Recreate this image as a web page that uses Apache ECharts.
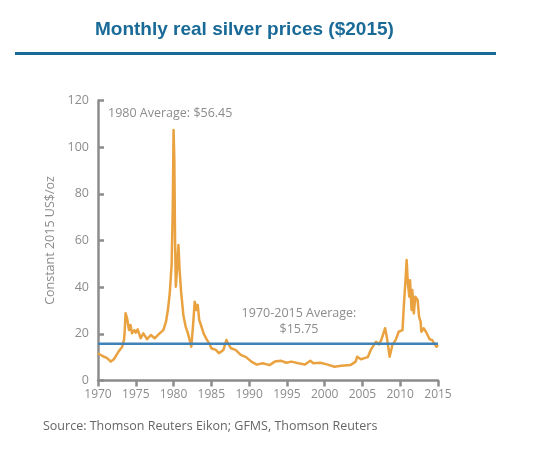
<!DOCTYPE html>
<html>
<head>
<meta charset="utf-8">
<script src="https://cdn.jsdelivr.net/npm/echarts@6/dist/echarts.min.js"></script>
<style>html,body{margin:0;padding:0;background:#fff}#c{width:550px;height:456px}</style>
</head>
<body>
<div id="c"></div>
<script>
const years = [1970.0,1970.6,1971.2,1971.7,1972.1,1972.7,1973.2,1973.45,1973.55,1973.65,1973.85,1974.1,1974.3,1974.5,1974.8,1975.0,1975.25,1975.65,1976.0,1976.5,1977.0,1977.5,1978.15,1978.65,1979.0,1979.25,1979.5,1979.75,1979.9,1980.0,1980.1,1980.2,1980.3,1980.45,1980.65,1980.8,1981.0,1981.3,1981.6,1981.9,1982.2,1982.35,1982.6,1982.8,1983.0,1983.2,1983.4,1983.6,1984.0,1984.4,1984.8,1985.0,1985.6,1986.0,1986.6,1987.0,1987.2,1987.6,1988.2,1988.9,1989.6,1990.3,1991.0,1991.8,1992.7,1993.4,1994.2,1994.9,1995.6,1996.5,1997.4,1998.1,1998.5,1999.4,2000.3,2001.3,2002.2,2003.4,2004.1,2004.3,2004.8,2005.0,2005.7,2006.1,2006.5,2006.8,2007.2,2007.5,2008.0,2008.25,2008.6,2008.96,2009.4,2009.8,2010.0,2010.3,2010.5,2010.7,2010.85,2011.0,2011.2,2011.3,2011.5,2011.6,2011.8,2012.0,2012.3,2012.5,2012.7,2012.8,2013.1,2013.4,2013.6,2013.9,2014.2,2014.5,2014.8,2015.0];
const prices = [11.7,10.5,9.6,8.1,9.1,12.3,14.5,17.5,22.0,28.8,26.7,21.6,23.8,20.2,21.6,20.5,21.9,18.1,20.2,17.7,19.5,18.1,20.2,21.6,25.2,30.2,37.5,50.0,75.0,107.4,95,60,40.2,47.4,58.1,47.4,38.0,28.0,23.1,20.2,16.5,14.5,24.5,33.8,30.2,32.4,25.9,24.0,20.0,17.5,15.5,13.8,13.1,11.7,13.1,17.4,16.0,13.8,13.1,11.0,10.0,8.1,6.8,7.4,6.6,8.1,8.5,7.6,8.1,7.4,6.9,8.5,7.4,7.6,6.9,5.9,6.3,6.6,8.1,10.2,9.1,8.8,10.0,13.1,15.2,16.6,15.5,17.4,22.4,18.1,10.2,15.2,17.4,20.9,20.9,21.6,33.1,43.0,51.6,42.3,35.9,43.0,30.2,38.8,28.8,35.9,34.5,27.3,25.2,20.9,22.4,20.9,20.2,17.7,17.4,15.9,14.5,15.2];
const avgValue = 15.75;
const avgYears = [1970, 2015];
const yTicks = [0, 20, 40, 60, 80, 100, 120];
const xTicks = [1970, 1975, 1980, 1985, 1990, 1995, 2000, 2005, 2010, 2015];

const titleText = 'Monthly real silver prices ($2015)';
const yName = 'Constant 2015 US$/oz';
const note1980 = '1980 Average: $56.45';
const noteAvg = '1970-2015 Average:\n$15.75';
const sourceText = 'Source: Thomson Reuters Eikon; GFMS, Thomson Reuters';

const lineData = years.map((y, i) => [y, prices[i]]);
const avgData = avgYears.map(y => [y, avgValue]);

const gray = '#8c8c8c';
const font = 'Open Sans';

const chart = echarts.init(document.getElementById('c'), null, {renderer: 'canvas'});
chart.setOption({
  backgroundColor: '#ffffff',
  animation: false,
  title: {
    text: titleText,
    left: 90, top: 15,
    textStyle: {fontFamily: 'Liberation Sans', fontWeight: 'bold', fontSize: 19, color: '#1a6a98'}
  },
  grid: {left: 98, right: 112, top: 100.5, bottom: 75.5},
  xAxis: {
    type: 'value', min: xTicks[0], max: xTicks[xTicks.length - 1], interval: 5,
    axisLine: {show: true, onZero: false, lineStyle: {color: gray, width: 2.5}},
    axisTick: {show: true, inside: false, length: 6, lineStyle: {color: gray, width: 2.5}},
    splitLine: {show: false},
    axisLabel: {color: gray, fontFamily: font, fontSize: 12, margin: 8, formatter: v => String(v)}
  },
  yAxis: {
    type: 'value', min: yTicks[0], max: yTicks[yTicks.length - 1], interval: 20,
    name: yName, nameLocation: 'middle', nameGap: 40, nameRotate: 90,
    nameTextStyle: {color: gray, fontFamily: font, fontSize: 12.5},
    axisLine: {show: true, lineStyle: {color: gray, width: 2.5}},
    axisTick: {show: true, inside: true, length: 6, lineStyle: {color: gray, width: 2.5}},
    splitLine: {show: false},
    axisLabel: {color: gray, fontFamily: font, fontSize: 12.5, margin: 9}
  },
  series: [
    {
      type: 'line', data: lineData, showSymbol: false, symbol: 'none',
      lineStyle: {color: '#e9a23f', width: 2.5, join: 'round'}, z: 2
    },
    {
      type: 'line', data: avgData, showSymbol: false, symbol: 'none',
      lineStyle: {color: '#3f82b7', width: 2.5}, z: 3
    }
  ],
  graphic: [
    {type: 'rect', shape: {x: 15, y: 52, width: 481, height: 3}, style: {fill: '#1a6a98'}},
    {type: 'text', left: 108, top: 107, style: {text: note1980, fill: gray, font: '12.5px "Open Sans"'}},
    {type: 'text', x: 299, y: 305, style: {text: noteAvg, fill: gray, font: '12.5px "Open Sans"', textAlign: 'center', lineHeight: 16}},
    {type: 'text', left: 43, top: 420, style: {text: sourceText, fill: '#666666', font: '12.5px "Open Sans"'}}
  ]
});
</script>
</body>
</html>
